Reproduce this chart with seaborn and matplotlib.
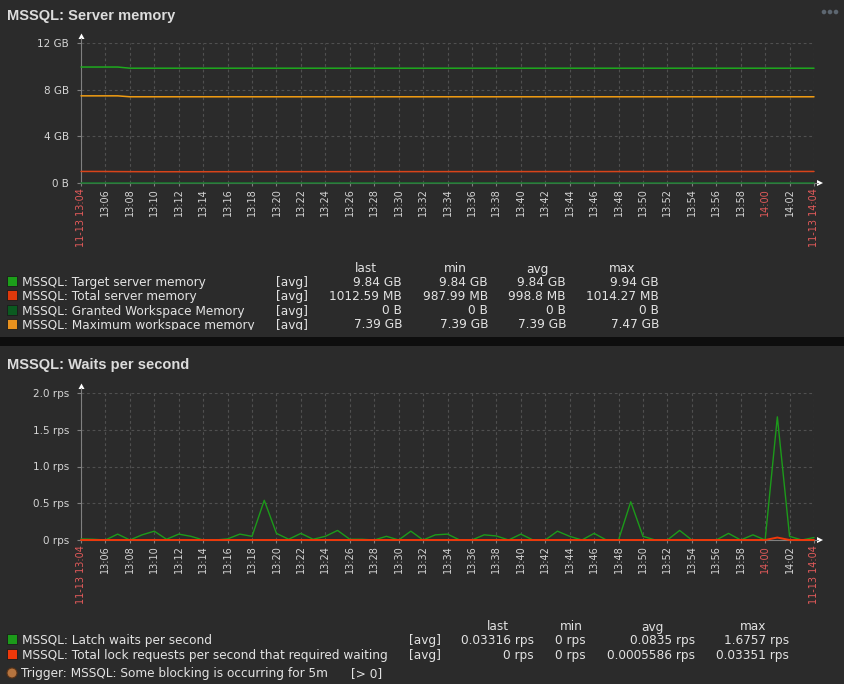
import numpy as np
import pandas as pd
import matplotlib.pyplot as plt
import matplotlib.dates as mdates
from matplotlib.patches import Rectangle, Circle, Polygon
import seaborn as sns

# -----------------------------
# Data
# -----------------------------
W, H = 844, 684
times = pd.date_range("2023-11-13 13:04", "2023-11-13 14:04", freq="1min")

# Server memory, GB (flat lines, drop at 13:08)
target_gb = [9.94] * 4 + [9.84] * 57
max_ws_gb = [7.47] * 4 + [7.39] * 57
granted_gb = [0.0] * 61
total_mb = [1014.27, 1013.8, 1009.5, 1001.2, 996.4, 992.7, 990.3, 989.1, 988.4, 987.99,
            989.0, 990.6, 991.2, 992.9, 993.1, 994.0, 993.6, 995.2, 994.8, 995.9,
            996.3, 995.7, 997.0, 996.6, 997.8, 998.1, 997.4, 998.9, 999.2, 998.6,
            999.8, 1000.3, 999.9, 1001.0, 1000.6, 1001.7, 1002.1, 1001.5, 1002.8, 1003.0,
            1002.4, 1003.7, 1004.1, 1003.5, 1004.9, 1005.3, 1004.6, 1006.0, 1006.4, 1005.8,
            1007.2, 1007.7, 1007.1, 1008.5, 1009.0, 1008.3, 1009.9, 1010.6, 1010.1, 1011.8,
            1012.59]

# Waits per second, rps
latch_rps = [0.014, 0.01, 0.0, 0.08, 0.0, 0.07, 0.12, 0.01, 0.08, 0.05,
             0.0, 0.0, 0.015, 0.08, 0.05, 0.54, 0.09, 0.01, 0.09, 0.01,
             0.05, 0.13, 0.01, 0.01, 0.0, 0.05, 0.0, 0.12, 0.0, 0.07,
             0.08, 0.0, 0.0, 0.07, 0.055, 0.0, 0.08, 0.0, 0.0, 0.12,
             0.05, 0.0, 0.09, 0.0, 0.0, 0.52, 0.05, 0.0, 0.0, 0.13,
             0.0, 0.0, 0.0, 0.09, 0.0, 0.07, 0.0, 1.6757, 0.05, 0.0,
             0.03316]
lock_rps = [0.0] * 57 + [0.03351] + [0.0] * 3

mem_names = ["MSSQL: Target server memory", "MSSQL: Total server memory",
             "MSSQL: Granted Workspace Memory", "MSSQL: Maximum workspace memory"]
mem_colors = ["#1c9f1a", "#e0390c", "#0b5a20", "#e8911e"]
mem_line_colors = ["#1eaa1e", "#d9441a", "#1a7a2e", "#f29d12"]
mem_last = ["9.84 GB", "1012.59 MB", "0 B", "7.39 GB"]
mem_min = ["9.84 GB", "987.99 MB", "0 B", "7.39 GB"]
mem_avg = ["9.84 GB", "998.8 MB", "0 B", "7.39 GB"]
mem_max = ["9.94 GB", "1014.27 MB", "0 B", "7.47 GB"]

wait_names = ["MSSQL: Latch waits per second",
              "MSSQL: Total lock requests per second that required waiting"]
wait_colors = ["#1c9a1a", "#f0380a"]
wait_last = ["0.03316 rps", "0 rps"]
wait_min = ["0 rps", "0 rps"]
wait_avg = ["0.0835 rps", "0.0005586 rps"]
wait_max = ["1.6757 rps", "0.03351 rps"]

mem_yticks = [0, 4, 8, 12]
mem_ylabels = ["0 B", "4 GB", "8 GB", "12 GB"]
wait_yticks = [0, 0.5, 1.0, 1.5, 2.0]
wait_ylabels = ["0 rps", "0.5 rps", "1.0 rps", "1.5 rps", "2.0 rps"]

# -----------------------------
# Style
# -----------------------------
BG = "#2b2b2b"
GRID = "#505050"
AXIS = "#808080"
TXT = "#e2e2e2"
TICK_TXT = "#d4d4d4"
RED_TXT = "#e25a5a"

sns.set_theme(style="dark", rc={"axes.facecolor": BG, "figure.facecolor": BG})
plt.rcParams["font.family"] = ["DejaVu Sans"]

fig = plt.figure(figsize=(W / 100, H / 100), dpi=100, facecolor=BG)


def fy(y):
    return 1 - y / H


def make_axes(top, bottom):
    return fig.add_axes([81 / W, fy(bottom), (814 - 81) / W, (bottom - top) / H])


def style_axes(ax, yticks, ylabels):
    ax.set_facecolor(BG)
    ax.set_xlim(mdates.date2num(times[0].to_pydatetime()),
                mdates.date2num(times[-1].to_pydatetime()))
    ax.set_ylim(yticks[0], yticks[-1])
    ax.set_yticks(yticks)
    ax.set_yticklabels(ylabels)
    tick_times = times[::2]
    ax.set_xticks(mdates.date2num(tick_times.to_pydatetime()))
    labels = [t.strftime("%H:%M") for t in tick_times]
    labels[0] = "11-13 " + labels[0]
    labels[-1] = "11-13 " + labels[-1]
    ax.set_xticklabels(labels)
    ax.grid(True, color=GRID, linestyle=(0, (2.5, 2.5)), linewidth=0.8)
    for s in ["top", "right"]:
        ax.spines[s].set_visible(False)
    for s in ["left", "bottom"]:
        ax.spines[s].set_color(AXIS)
        ax.spines[s].set_linewidth(0.8)
        ax.spines[s].set_zorder(1)
    ax.tick_params(axis="y", length=3, width=0.8, color=AXIS, pad=5.5,
                   labelsize=7.5, labelcolor=TICK_TXT, left=True)
    ax.tick_params(axis="x", length=2, width=0.8, color=AXIS, pad=1.5,
                   labelsize=7, labelcolor=TICK_TXT, labelrotation=90, bottom=True)
    for lab, t in zip(ax.get_xticklabels(), tick_times):
        if t == times[0] or t == times[-1] or (t.hour == 14 and t.minute == 0):
            lab.set_color(RED_TXT)
    # lines sit on top of the axis line, like in the dashboard
    for line in ax.get_lines():
        line.set_clip_on(False)
        line.set_zorder(3)
    ax.set_xlabel("")
    ax.set_ylabel("")


# -----------------------------
# Server memory
# -----------------------------
mem_df = pd.DataFrame({
    "time": np.tile(times, 4),
    "value": np.concatenate([target_gb, np.array(total_mb) / 1024, granted_gb, max_ws_gb]),
    "series": np.repeat(mem_names, len(times)),
})
ax1 = make_axes(43, 183)
sns.lineplot(data=mem_df, x="time", y="value", hue="series", hue_order=mem_names,
             palette=mem_line_colors, linewidth=1.1, legend=False, ax=ax1)
style_axes(ax1, mem_yticks, mem_ylabels)

# -----------------------------
# Waits per second
# -----------------------------
wait_df = pd.DataFrame({
    "time": np.tile(times, 2),
    "value": np.concatenate([latch_rps, lock_rps]),
    "series": np.repeat(wait_names, len(times)),
})
ax2 = make_axes(393, 540)
sns.lineplot(data=wait_df, x="time", y="value", hue="series", hue_order=wait_names,
             palette=wait_colors, linewidth=1.0, legend=False, ax=ax2)
style_axes(ax2, wait_yticks, wait_ylabels)
ax2.get_lines()[1].set_linewidth(1.4)

# -----------------------------
# Overlay (pixel coordinates): titles, legends, arrows
# -----------------------------
ov = fig.add_axes([0, 0, 1, 1], zorder=-1)
ov.set_xlim(0, W)
ov.set_ylim(H, 0)
ov.axis("off")

ov.text(7, 20, "MSSQL: Server memory", fontsize=10.5, fontweight="bold",
        family=["Liberation Sans", "DejaVu Sans"], color="#dcdcdc", va="baseline")
ov.text(7, 369, "MSSQL: Waits per second", fontsize=10.5, fontweight="bold",
        family=["Liberation Sans", "DejaVu Sans"], color="#dcdcdc", va="baseline")

for cx in (824, 830, 836):
    ov.add_patch(Circle((cx, 12), 2.3, color="#5c6670", lw=0))

# axis arrows
for top, bottom in ((43, 183), (393, 540)):
    ov.plot([81, 81], [top - 5, top], color=AXIS, lw=0.8)
    ov.add_patch(Polygon([(78.5, top - 4), (84.5, top - 4), (81.5, top - 9.5)], color="white", lw=0))
    ov.plot([814, 818], [bottom, bottom], color=AXIS, lw=0.8)
    ov.add_patch(Polygon([(817, bottom - 3), (817, bottom + 3), (823, bottom)], color="white", lw=0))

LFS = 8.7


def legend_block(y_head, y_rows, names, colors, avg_x, col_rights, head_centers, cols):
    for hx, h in zip(head_centers, ["last", "min", "avg", "max"]):
        ov.text(hx, y_head, h, fontsize=LFS, color=TXT, ha="center", va="baseline")
    for i, (name, col) in enumerate(zip(names, colors)):
        yb = y_rows[i]
        ov.add_patch(Rectangle((7, yb - 10), 10, 10, facecolor=col,
                               edgecolor="#1b1b1b", lw=0.6))
        ov.text(22, yb, name, fontsize=LFS, color=TXT, va="baseline")
        ov.text(avg_x, yb, "[avg]", fontsize=LFS, color=TXT, va="baseline")
        for rx, vals in zip(col_rights, cols):
            ov.text(rx, yb, vals[i], fontsize=LFS, color=TXT, ha="right", va="baseline")


legend_block(272.5, [286, 300.3, 314.5, 328.5], mem_names, mem_colors, 276,
             [402, 488, 566, 659], [366, 455, 537, 622],
             [mem_last, mem_min, mem_avg, mem_max])
legend_block(630.5, [644.3, 658.5], wait_names, wait_colors, 409,
             [534, 586, 695, 789], [498, 571, 652, 753],
             [wait_last, wait_min, wait_avg, wait_max])

ov.add_patch(Circle((12, 673), 5, facecolor="#b5743f", edgecolor="#5a3318", lw=0.8))
ov.text(21, 677.5, "Trigger: MSSQL: Some blocking is occurring for 5m", fontsize=LFS,
        color=TXT, va="baseline")
ov.text(351, 677.5, "[> 0]", fontsize=LFS, color=TXT, va="baseline")

# widget edge: top panel cut off, dark separator between widgets
ov.add_patch(Rectangle((0, 329.5), W, 7.5, facecolor=BG, lw=0, zorder=5))
ov.add_patch(Rectangle((0, 337), W, 9, facecolor="#0e0e0e", lw=0, zorder=6))

fig.savefig("out.png", dpi=100, facecolor=BG)
